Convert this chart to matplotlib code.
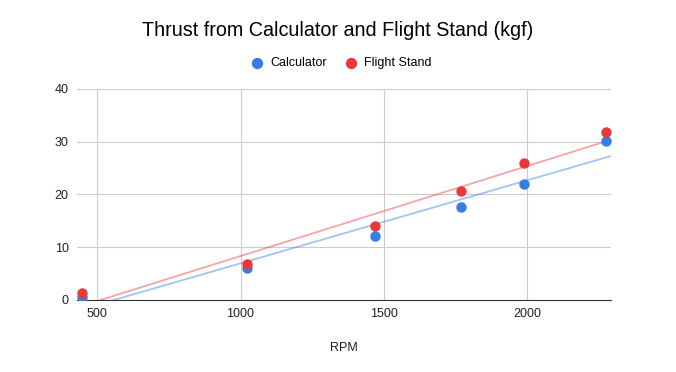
import numpy as np
import matplotlib.pyplot as plt

plt.rcParams['font.family'] = ['Liberation Sans', 'DejaVu Sans']

rpm = [448, 1023, 1470, 1769, 1990, 2274]
calculator = [0.5, 6.1, 12.1, 17.6, 22.0, 30.1]
flight_stand = [1.3, 6.8, 14.0, 20.7, 25.9, 31.9]

blue = '#327de6'
red = '#e8393a'

fig = plt.figure(figsize=(6.76, 3.72), dpi=100)
ax = fig.add_axes([0.114, 0.194, 0.79, 0.567])

xlim = (430, 2292)
xs = np.array(xlim)
for ys, c in [(calculator, blue), (flight_stand, red)]:
    m, b = np.polyfit(rpm, ys, 1)
    ax.plot(xs, m * xs + b, color=c, alpha=0.45, lw=1.3, zorder=2)

ax.scatter(rpm, calculator, s=42, color=blue, zorder=3, label='Calculator')
ax.scatter(rpm, flight_stand, s=42, color=red, zorder=3, label='Flight Stand')

ax.set_xlim(*xlim)
ax.set_ylim(0, 40)
ax.set_xticks([500, 1000, 1500, 2000])
ax.set_yticks([0, 10, 20, 30, 40])
ax.grid(True, color='#cccccc', lw=0.8)
ax.set_axisbelow(True)
for s in ['top', 'right', 'left']:
    ax.spines[s].set_visible(False)
ax.spines['bottom'].set_color('#333333')
ax.tick_params(length=0, labelsize=9, colors='#222222', pad=6)
ax.set_xlabel('RPM', fontsize=9, color='#222222', labelpad=16)

fig.text(0.5, 0.917, 'Thrust from Calculator and Flight Stand (kgf)', ha='center',
         va='center', fontsize=14.2, color='#000000')
fig.legend(loc='center', bbox_to_anchor=(0.5, 0.83), ncol=2, frameon=False,
           fontsize=9, handletextpad=0.05, columnspacing=0.9, markerscale=1.1)

fig.savefig('out.png', dpi=100)
